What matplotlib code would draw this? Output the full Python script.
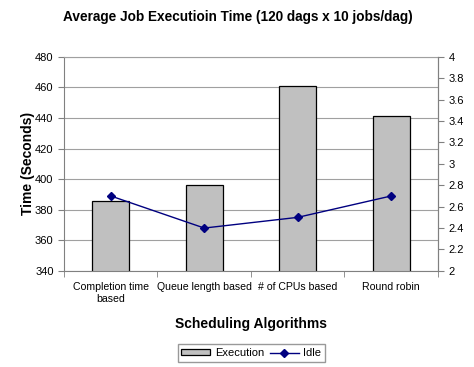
import numpy as np
import matplotlib.pyplot as plt

plt.rcParams['font.family'] = ['Liberation Sans', 'DejaVu Sans']

categories = ["Completion time\nbased", "Queue length based", "# of CPUs based", "Round robin"]
execution = [386, 396, 461, 441]
idle = [2.7, 2.4, 2.5, 2.7]

fig = plt.figure(figsize=(4.74, 3.67), dpi=100)
ax = fig.add_axes([0.135, 0.262, 0.789, 0.583])
x = np.arange(len(categories))

ax.bar(x, execution, width=0.4, color='#c0c0c0', edgecolor='black', linewidth=0.9,
       label='Execution', zorder=2)
ax.set_ylim(340, 480)
ax.set_yticks(np.arange(340, 481, 20))
ax.set_xlim(-0.5, 3.5)
ax.set_xticks(x)
ax.set_xticklabels(categories, fontsize=7.6)
ax.tick_params(axis='x', length=0, pad=8)
ax.set_xticks(np.arange(-0.5, 4, 1), minor=True)
ax.tick_params(axis='x', which='minor', length=4, direction='out', color='gray')
ax.tick_params(axis='y', labelsize=8, length=4, color='gray')
ax.yaxis.grid(True, color='#a0a0a0', linewidth=0.8, zorder=0)
ax.set_axisbelow(True)
for s in ['left', 'bottom', 'right']:
    ax.spines[s].set_color('#808080')
ax.spines['top'].set_color('#a0a0a0')
ax.set_ylabel('Time (Seconds)', fontsize=10, fontweight='bold', labelpad=0)
ax.set_xlabel('Scheduling Algorithms', fontsize=10, fontweight='bold', labelpad=10)

ax2 = ax.twinx()
ax2.plot(x, idle, color='#000080', marker='D', markersize=4.5, linewidth=1,
         label='Idle', zorder=3)
ax2.set_ylim(2, 4)
ax2.set_yticks(np.arange(2, 4.01, 0.2))
ax2.set_yticklabels(['2', '2.2', '2.4', '2.6', '2.8', '3', '3.2', '3.4', '3.6', '3.8', '4'])
ax2.tick_params(axis='y', labelsize=8, length=4, color='gray')
for s in ax2.spines.values():
    s.set_visible(False)
ax2.spines['right'].set_visible(True)
ax2.spines['right'].set_color('#808080')

fig.text(0.502, 0.953, 'Average Job Executioin Time (120 dags x 10 jobs/dag)',
         ha='center', va='center', fontsize=9.8, fontweight='bold')

h1, l1 = ax.get_legend_handles_labels()
h2, l2 = ax2.get_legend_handles_labels()
fig.legend(h1 + h2, l1 + l2, loc='center', bbox_to_anchor=(0.53, 0.038), ncol=2,
           fontsize=8, frameon=True, fancybox=False, edgecolor='#808080',
           handlelength=2.6, handleheight=0.45, columnspacing=0.5, handletextpad=0.4,
           borderpad=0.35, borderaxespad=0)

fig.savefig('out.png', dpi=100)
